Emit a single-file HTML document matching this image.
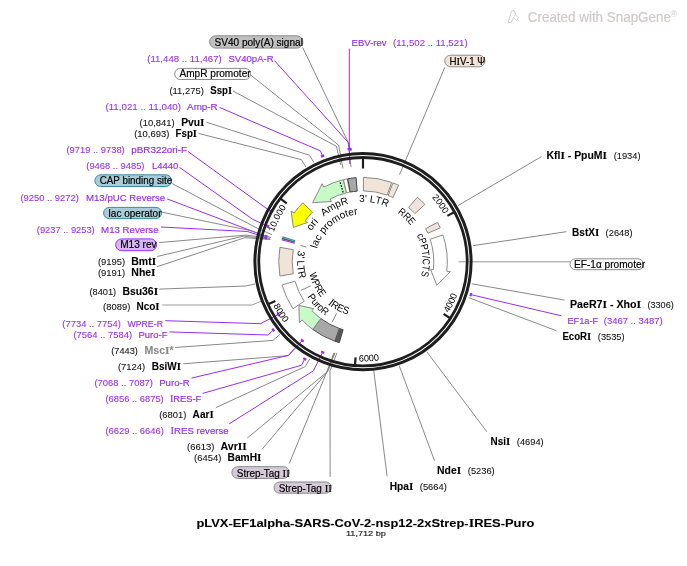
<!DOCTYPE html><html><head><meta charset="utf-8"><style>html,body{margin:0;padding:0;background:#fff;}svg{display:block;will-change:transform;}</style></head><body><svg width="687" height="566" viewBox="0 0 687 566" font-family='"Liberation Sans", sans-serif'>
<rect width="687" height="566" fill="#fff"/>
<polyline points="302.70,47.50 348.10,142.20 351.00,167.00" fill="none" stroke="#7a7a7a" stroke-width="0.90"/>
<polyline points="274.40,60.60 348.10,142.20 350.20,149.50" fill="none" stroke="#9b2cf2" stroke-width="1.00"/>
<polyline points="250.60,75.00 338.60,145.10 343.00,168.40" fill="none" stroke="#7a7a7a" stroke-width="0.90"/>
<polyline points="233.00,91.00 336.40,146.30 340.80,165.00" fill="none" stroke="#7a7a7a" stroke-width="0.90"/>
<polyline points="219.50,107.40 320.40,150.90 322.60,156.00" fill="none" stroke="#9b2cf2" stroke-width="1.00"/>
<polyline points="206.40,122.20 309.50,155.30 313.90,162.60" fill="none" stroke="#7a7a7a" stroke-width="0.90"/>
<polyline points="198.50,133.40 301.50,159.70 305.90,167.00" fill="none" stroke="#7a7a7a" stroke-width="0.90"/>
<polyline points="187.90,151.40 266.00,208.10 271.10,211.10" fill="none" stroke="#9b2cf2" stroke-width="1.00"/>
<polyline points="179.40,167.30 252.70,219.30 268.00,226.40" fill="none" stroke="#9b2cf2" stroke-width="1.00"/>
<polyline points="172.20,183.60 257.80,228.50 272.00,234.60" fill="none" stroke="#7a7a7a" stroke-width="0.90"/>
<polyline points="167.10,198.90 255.80,232.50 266.00,236.60" fill="none" stroke="#9b2cf2" stroke-width="1.00"/>
<polyline points="162.00,212.20 249.70,230.50 271.00,237.60" fill="none" stroke="#7a7a7a" stroke-width="0.90"/>
<polyline points="161.00,227.00 247.60,231.50 266.00,237.60" fill="none" stroke="#9b2cf2" stroke-width="1.00"/>
<polyline points="159.20,242.60 245.80,235.10 270.20,238.20" fill="none" stroke="#7a7a7a" stroke-width="0.90"/>
<polyline points="157.10,256.50 243.70,236.10 270.20,239.20" fill="none" stroke="#7a7a7a" stroke-width="0.90"/>
<polyline points="157.10,266.70 244.80,237.70 270.20,239.50" fill="none" stroke="#7a7a7a" stroke-width="0.90"/>
<polyline points="159.20,289.10 245.80,286.00 255.00,284.00" fill="none" stroke="#7a7a7a" stroke-width="0.90"/>
<polyline points="162.20,305.00 251.90,305.00 261.10,301.30" fill="none" stroke="#9a9a9a" stroke-width="1.00"/>
<polyline points="165.30,320.70 260.50,323.70 278.20,314.50" fill="none" stroke="#9b2cf2" stroke-width="1.00"/>
<polyline points="169.40,331.90 268.20,335.00 273.30,329.90" fill="none" stroke="#9b2cf2" stroke-width="1.00"/>
<polyline points="175.10,347.50 272.90,340.40 280.00,334.30" fill="none" stroke="#7a7a7a" stroke-width="0.90"/>
<polyline points="183.20,363.80 288.20,355.70 294.30,348.50" fill="none" stroke="#7a7a7a" stroke-width="0.90"/>
<polyline points="191.40,378.10 288.70,355.30 302.30,340.50" fill="none" stroke="#9b2cf2" stroke-width="1.00"/>
<polyline points="202.60,393.40 301.60,365.20 304.70,359.00" fill="none" stroke="#9b2cf2" stroke-width="1.00"/>
<polyline points="215.90,407.60 305.30,366.50 309.70,359.00" fill="none" stroke="#7a7a7a" stroke-width="0.90"/>
<polyline points="229.10,423.90 313.40,370.80 322.70,352.30" fill="none" stroke="#9b2cf2" stroke-width="1.00"/>
<polyline points="247.30,438.00 327.00,372.00 333.80,352.90" fill="none" stroke="#7a7a7a" stroke-width="0.90"/>
<polyline points="262.10,449.20 328.20,370.80 334.50,352.90" fill="none" stroke="#7a7a7a" stroke-width="0.90"/>
<polyline points="289.30,463.50 328.80,367.00 335.00,352.90" fill="none" stroke="#7a7a7a" stroke-width="0.90"/>
<polyline points="330.10,477.00 330.00,370.80 336.90,352.90" fill="none" stroke="#7a7a7a" stroke-width="0.90"/>
<polyline points="387.10,476.30 373.80,370.90" fill="none" stroke="#7a7a7a" stroke-width="0.90"/>
<polyline points="434.50,460.60 399.20,365.60" fill="none" stroke="#7a7a7a" stroke-width="0.90"/>
<polyline points="486.90,431.80 426.80,351.80" fill="none" stroke="#7a7a7a" stroke-width="0.90"/>
<polyline points="556.40,330.70 468.70,297.70" fill="none" stroke="#7a7a7a" stroke-width="0.90"/>
<polyline points="561.40,315.80 470.80,294.60" fill="none" stroke="#9b2cf2" stroke-width="1.00"/>
<polyline points="564.50,300.10 471.80,283.80" fill="none" stroke="#7a7a7a" stroke-width="0.90"/>
<polyline points="570.00,261.80 458.50,261.80" fill="none" stroke="#9a9a9a" stroke-width="1.00"/>
<polyline points="566.30,231.70 472.80,245.70" fill="none" stroke="#7a7a7a" stroke-width="0.90"/>
<polyline points="541.50,156.60 458.00,205.60" fill="none" stroke="#7a7a7a" stroke-width="0.90"/>
<polyline points="444.80,67.30 401.50,170.00 399.40,174.50" fill="none" stroke="#7a7a7a" stroke-width="0.90"/>
<polyline points="349.30,48.60 349.30,149.00" fill="none" stroke="#9b2cf2" stroke-width="1.00"/>
<polyline points="349.30,149.00 349.80,164.00" fill="none" stroke="#9b2cf2" stroke-width="1.00"/>
<line x1="348.51" y1="149.69" x2="351.89" y2="149.31" stroke="#9b2cf2" stroke-width="2.2"/>
<line x1="321.01" y1="156.61" x2="324.19" y2="155.39" stroke="#9b2cf2" stroke-width="2.2"/>
<line x1="270.28" y1="212.59" x2="271.92" y2="209.61" stroke="#9b2cf2" stroke-width="2.2"/>
<line x1="267.41" y1="227.99" x2="268.59" y2="224.81" stroke="#9b2cf2" stroke-width="2.2"/>
<line x1="265.57" y1="238.25" x2="266.43" y2="234.95" stroke="#9b2cf2" stroke-width="2.2"/>
<line x1="265.59" y1="239.25" x2="266.41" y2="235.95" stroke="#9b2cf2" stroke-width="2.2"/>
<line x1="279.10" y1="315.94" x2="277.30" y2="313.06" stroke="#9b2cf2" stroke-width="2.2"/>
<line x1="274.33" y1="331.25" x2="272.27" y2="328.55" stroke="#9b2cf2" stroke-width="2.2"/>
<line x1="303.65" y1="341.54" x2="300.95" y2="339.46" stroke="#9b2cf2" stroke-width="2.2"/>
<line x1="306.16" y1="359.87" x2="303.24" y2="358.13" stroke="#9b2cf2" stroke-width="2.2"/>
<line x1="324.25" y1="352.99" x2="321.15" y2="351.61" stroke="#9b2cf2" stroke-width="2.2"/>
<line x1="471.30" y1="292.97" x2="470.30" y2="296.23" stroke="#9b2cf2" stroke-width="2.2"/>
<line x1="347.61" y1="149.21" x2="350.99" y2="148.79" stroke="#9b2cf2" stroke-width="2.2"/>
<circle cx="363.00" cy="261.70" r="108.1" fill="none" stroke="#1e1e1e" stroke-width="3"/>
<circle cx="363.00" cy="261.70" r="104.2" fill="none" stroke="#1e1e1e" stroke-width="2.8"/>
<line x1="363.00" y1="168.50" x2="363.00" y2="158.20" stroke="#1e1e1e" stroke-width="2.2"/>
<line x1="447.35" y1="215.86" x2="453.94" y2="212.28" stroke="#1e1e1e" stroke-width="2.2"/>
<line x1="443.56" y1="313.92" x2="449.85" y2="318.00" stroke="#1e1e1e" stroke-width="2.2"/>
<line x1="355.59" y1="357.41" x2="355.01" y2="364.89" stroke="#1e1e1e" stroke-width="2.2"/>
<line x1="275.37" y1="300.90" x2="268.52" y2="303.96" stroke="#1e1e1e" stroke-width="2.2"/>
<line x1="286.71" y1="203.42" x2="280.75" y2="198.87" stroke="#1e1e1e" stroke-width="2.2"/>
<path d="M 363.44 177.40 A 84.3 84.3 0 0 1 391.69 182.43 L 387.10 195.13 A 70.8 70.8 0 0 0 363.37 190.90 Z" fill="#f0e4d8" stroke="#8a8a8a" stroke-width="1.00" stroke-linejoin="round"/>
<path d="M 392.94 182.89 A 84.3 84.3 0 0 1 398.63 185.30 L 392.92 197.53 A 70.8 70.8 0 0 0 388.14 195.51 Z" fill="#f0e4d8" stroke="#8a8a8a" stroke-width="1.00" stroke-linejoin="round"/>
<path d="M 417.30 197.22 A 84.3 84.3 0 0 1 424.85 204.42 L 414.95 213.60 A 70.8 70.8 0 0 0 408.60 207.54 Z" fill="#f0e4d8" stroke="#8a8a8a" stroke-width="1.00" stroke-linejoin="round"/>
<path d="M 437.57 222.38 A 84.3 84.3 0 0 1 440.19 227.82 L 427.83 233.24 A 70.8 70.8 0 0 0 425.63 228.68 Z" fill="#f0e4d8" stroke="#8a8a8a" stroke-width="1.00" stroke-linejoin="round"/>
<path d="M 442.94 234.95 A 84.3 84.3 0 0 1 446.76 271.24 L 450.43 271.66 L 436.88 285.28 L 430.56 269.40 L 433.34 269.71 A 70.8 70.8 0 0 0 430.14 239.23 Z" fill="#ffffff" stroke="#8a8a8a" stroke-width="1.00" stroke-linejoin="miter"/>
<path d="M 339.34 342.61 A 84.3 84.3 0 0 1 334.86 341.16 L 339.37 328.44 A 70.8 70.8 0 0 0 343.13 329.65 Z" fill="#5a5a5a" stroke="#444" stroke-width="1.00" stroke-linejoin="round"/>
<path d="M 334.86 341.16 A 84.3 84.3 0 0 1 312.74 329.38 L 320.79 318.54 A 70.8 70.8 0 0 0 339.37 328.44 Z" fill="#a8a8a8" stroke="#555" stroke-width="1.00" stroke-linejoin="round"/>
<path d="M 312.74 329.38 A 84.3 84.3 0 0 1 302.05 319.94 L 299.38 322.50 L 298.94 305.40 L 313.84 308.68 L 311.81 310.61 A 70.8 70.8 0 0 0 320.79 318.54 Z" fill="#c8fac8" stroke="#8a8a8a" stroke-width="1.00" stroke-linejoin="miter"/>
<path d="M 293.03 308.72 A 84.3 84.3 0 0 1 281.97 284.94 L 294.94 281.22 A 70.8 70.8 0 0 0 304.24 301.19 Z" fill="#ffffff" stroke="#8a8a8a" stroke-width="1.00" stroke-linejoin="round"/>
<path d="M 279.93 276.05 A 84.3 84.3 0 0 1 279.93 247.35 L 293.23 249.65 A 70.8 70.8 0 0 0 293.23 273.75 Z" fill="#f0e4d8" stroke="#8a8a8a" stroke-width="1.00" stroke-linejoin="round"/>
<path d="M 281.46 240.31 A 84.3 84.3 0 0 1 281.77 239.17 L 294.77 242.78 A 70.8 70.8 0 0 0 294.52 243.73 Z" fill="#9b2cf2" stroke="none" stroke-width="0.00" stroke-linejoin="round"/>
<path d="M 281.77 239.17 A 84.3 84.3 0 0 1 282.21 237.62 L 295.15 241.47 A 70.8 70.8 0 0 0 294.77 242.78 Z" fill="#5a5a5a" stroke="none" stroke-width="0.00" stroke-linejoin="round"/>
<path d="M 282.21 237.62 A 84.3 84.3 0 0 1 282.65 236.21 L 295.51 240.29 A 70.8 70.8 0 0 0 295.15 241.47 Z" fill="#3a9ab0" stroke="none" stroke-width="0.00" stroke-linejoin="round"/>
<path d="M 302.77 202.72 A 84.3 84.3 0 0 0 294.11 213.11 L 291.09 210.97 L 293.42 227.46 L 307.43 222.50 L 305.15 220.89 A 70.8 70.8 0 0 1 312.42 212.16 Z" fill="#ffff00" stroke="#8a8a8a" stroke-width="1.00" stroke-linejoin="miter"/>
<path d="M 343.18 179.76 A 84.3 84.3 0 0 0 323.81 187.06 L 322.09 183.79 L 312.64 202.73 L 331.39 201.49 L 330.09 199.01 A 70.8 70.8 0 0 1 346.35 192.89 Z" fill="#c8fac8" stroke="#8a8a8a" stroke-width="1.00" stroke-linejoin="miter"/>
<polyline points="343.15,192.49 340.07,181.72" fill="none" stroke="#000" stroke-width="1.20" stroke-dasharray="1.6,1.4"/>
<path d="M 343.46 179.69 A 84.3 84.3 0 0 1 347.20 178.89 L 349.73 192.15 A 70.8 70.8 0 0 0 346.59 192.83 Z" fill="#ffffff" stroke="#8a8a8a" stroke-width="1.00" stroke-linejoin="round"/>
<path d="M 347.78 178.78 A 84.3 84.3 0 0 1 356.09 177.68 L 357.20 191.14 A 70.8 70.8 0 0 0 350.22 192.06 Z" fill="#a8a8a8" stroke="#444" stroke-width="1.00" stroke-linejoin="round"/>
<polyline points="310.71,285.86 300.91,290.39" fill="none" stroke="#7a7a7a" stroke-width="0.90"/>
<polyline points="336.58,313.33 332.02,322.23" fill="none" stroke="#7a7a7a" stroke-width="0.90"/>
<polyline points="306.58,247.00 300.58,245.44" fill="none" stroke="#7a7a7a" stroke-width="0.90"/>
<g font-size="10.20" fill="#000"><text transform="translate(362.07 201.91) rotate(-0.89) scale(0.967 1)" text-anchor="middle">3</text><text transform="translate(365.76 201.96) rotate(2.64) scale(0.967 1)" text-anchor="middle">'</text><text transform="translate(372.14 202.60) rotate(8.80) scale(0.967 1)" text-anchor="middle">L</text><text transform="translate(377.78 203.75) rotate(14.31) scale(0.967 1)" text-anchor="middle">T</text><text transform="translate(384.04 205.73) rotate(20.60) scale(0.967 1)" text-anchor="middle">R</text></g>
<g font-size="10.20" fill="#000"><text transform="translate(399.96 214.69) rotate(38.17) scale(0.859 1)" text-anchor="middle">R</text><text transform="translate(404.71 218.85) rotate(44.23) scale(0.859 1)" text-anchor="middle">R</text><text transform="translate(408.85 223.31) rotate(50.06) scale(0.859 1)" text-anchor="middle">E</text></g>
<g font-size="10.20" fill="#000"><text transform="translate(417.60 237.31) rotate(65.93) scale(0.872 1)" text-anchor="middle">c</text><text transform="translate(419.51 242.13) rotate(70.90) scale(0.872 1)" text-anchor="middle">P</text><text transform="translate(421.17 247.83) rotate(76.59) scale(0.872 1)" text-anchor="middle">P</text><text transform="translate(422.22 253.41) rotate(82.03) scale(0.872 1)" text-anchor="middle">T</text><text transform="translate(422.64 257.34) rotate(85.82) scale(0.872 1)" text-anchor="middle">/</text><text transform="translate(422.80 261.78) rotate(90.08) scale(0.872 1)" text-anchor="middle">C</text><text transform="translate(422.50 267.70) rotate(95.76) scale(0.872 1)" text-anchor="middle">T</text><text transform="translate(421.66 273.31) rotate(101.20) scale(0.872 1)" text-anchor="middle">S</text></g>
<g font-size="10.20" fill="#000"><text transform="translate(297.75 253.21) rotate(97.41) scale(0.967 1)" text-anchor="middle">3</text><text transform="translate(297.38 256.87) rotate(94.21) scale(0.967 1)" text-anchor="middle">'</text><text transform="translate(297.22 263.29) rotate(88.61) scale(0.967 1)" text-anchor="middle">L</text><text transform="translate(297.61 269.03) rotate(83.60) scale(0.967 1)" text-anchor="middle">T</text><text transform="translate(298.67 275.51) rotate(77.88) scale(0.967 1)" text-anchor="middle">R</text></g>
<g font-size="10.20" fill="#000"><text transform="translate(310.41 277.81) rotate(72.97) scale(0.876 1)" text-anchor="middle">W</text><text transform="translate(312.96 284.53) rotate(65.47) scale(0.876 1)" text-anchor="middle">P</text><text transform="translate(315.85 290.02) rotate(59.01) scale(0.876 1)" text-anchor="middle">R</text><text transform="translate(319.34 295.15) rotate(52.54) scale(0.876 1)" text-anchor="middle">E</text></g>
<g font-size="10.20" fill="#000"><text transform="translate(309.08 299.42) rotate(55.02) scale(0.917 1)" text-anchor="middle">P</text><text transform="translate(312.56 303.96) rotate(50.04) scale(0.917 1)" text-anchor="middle">u</text><text transform="translate(315.33 307.06) rotate(46.42) scale(0.917 1)" text-anchor="middle">r</text><text transform="translate(318.29 309.98) rotate(42.81) scale(0.917 1)" text-anchor="middle">o</text><text transform="translate(322.85 313.83) rotate(37.60) scale(0.917 1)" text-anchor="middle">R</text></g>
<g font-size="10.20" fill="#000"><text transform="translate(329.20 305.09) rotate(37.92) scale(0.945 1)" text-anchor="middle" font-family="Liberation Serif" font-size="11.12">I</text><text transform="translate(333.12 307.88) rotate(32.90) scale(0.945 1)" text-anchor="middle">R</text><text transform="translate(338.95 311.16) rotate(25.93) scale(0.945 1)" text-anchor="middle">E</text><text transform="translate(344.89 313.63) rotate(19.23) scale(0.945 1)" text-anchor="middle">S</text></g>
<g font-size="10.20" fill="#000"><text transform="translate(317.33 247.60) rotate(287.16) scale(1.000 1)" text-anchor="middle">l</text><text transform="translate(318.65 243.86) rotate(291.92) scale(1.000 1)" text-anchor="middle">a</text><text transform="translate(320.94 238.99) rotate(298.37) scale(1.000 1)" text-anchor="middle">c</text><text transform="translate(325.45 232.12) rotate(308.23) scale(1.000 1)" text-anchor="middle">p</text><text transform="translate(328.42 228.70) rotate(313.66) scale(1.000 1)" text-anchor="middle">r</text><text transform="translate(331.70 225.57) rotate(319.10) scale(1.000 1)" text-anchor="middle">o</text><text transform="translate(337.38 221.35) rotate(327.59) scale(1.000 1)" text-anchor="middle">m</text><text transform="translate(343.62 218.00) rotate(336.08) scale(1.000 1)" text-anchor="middle">o</text><text transform="translate(347.58 216.46) rotate(341.18) scale(1.000 1)" text-anchor="middle">t</text><text transform="translate(351.66 215.26) rotate(346.28) scale(1.000 1)" text-anchor="middle">e</text><text transform="translate(356.11 214.40) rotate(351.71) scale(1.000 1)" text-anchor="middle">r</text></g>
<g font-size="10.20" fill="#000"><text transform="translate(313.18 228.62) rotate(303.59) scale(1.000 1)" text-anchor="middle">o</text><text transform="translate(315.83 224.94) rotate(307.93) scale(1.000 1)" text-anchor="middle">r</text><text transform="translate(317.63 222.75) rotate(310.64) scale(1.000 1)" text-anchor="middle">i</text></g>
<g font-size="10.20" fill="#000"><text transform="translate(326.50 214.33) rotate(322.38) scale(1.000 1)" text-anchor="middle">A</text><text transform="translate(332.84 210.06) rotate(329.71) scale(1.000 1)" text-anchor="middle">m</text><text transform="translate(339.16 206.86) rotate(336.50) scale(1.000 1)" text-anchor="middle">p</text><text transform="translate(345.26 204.59) rotate(342.75) scale(1.000 1)" text-anchor="middle">R</text></g>
<g font-size="9.20" fill="#000"><text transform="translate(433.49 199.52) rotate(48.58) scale(1.000 1)" text-anchor="middle">2</text><text transform="translate(436.77 203.44) rotate(51.70) scale(1.000 1)" text-anchor="middle">0</text><text transform="translate(439.83 207.54) rotate(54.82) scale(1.000 1)" text-anchor="middle">0</text><text transform="translate(442.66 211.81) rotate(57.94) scale(1.000 1)" text-anchor="middle">0</text></g>
<g font-size="9.20" fill="#000"><text transform="translate(274.56 229.85) rotate(289.81) scale(1.000 1)" text-anchor="middle">1</text><text transform="translate(276.43 225.08) rotate(292.93) scale(1.000 1)" text-anchor="middle">0</text><text transform="translate(277.99 221.58) rotate(295.26) scale(1.000 1)" text-anchor="middle">,</text><text transform="translate(279.70 218.15) rotate(297.60) scale(1.000 1)" text-anchor="middle">0</text><text transform="translate(282.19 213.68) rotate(300.72) scale(1.000 1)" text-anchor="middle">0</text><text transform="translate(284.92 209.35) rotate(303.84) scale(1.000 1)" text-anchor="middle">0</text></g>
<g font-size="9.20" fill="#000"><text transform="translate(449.83 310.89) rotate(-60.47) scale(1.000 1)" text-anchor="middle">4</text><text transform="translate(452.24 306.38) rotate(-63.41) scale(1.000 1)" text-anchor="middle">0</text><text transform="translate(454.41 301.74) rotate(-66.34) scale(1.000 1)" text-anchor="middle">0</text><text transform="translate(456.35 297.01) rotate(-69.28) scale(1.000 1)" text-anchor="middle">0</text></g>
<g font-size="9.20" fill="#000"><text transform="translate(361.38 361.49) rotate(0.93) scale(1.000 1)" text-anchor="middle">6</text><text transform="translate(366.49 361.44) rotate(-2.01) scale(1.000 1)" text-anchor="middle">0</text><text transform="translate(371.60 361.13) rotate(-4.94) scale(1.000 1)" text-anchor="middle">0</text><text transform="translate(376.68 360.56) rotate(-7.88) scale(1.000 1)" text-anchor="middle">0</text></g>
<g font-size="9.20" fill="#000"><text transform="translate(274.53 307.89) rotate(62.43) scale(1.000 1)" text-anchor="middle">8</text><text transform="translate(277.01 312.36) rotate(59.49) scale(1.000 1)" text-anchor="middle">0</text><text transform="translate(279.72 316.70) rotate(56.56) scale(1.000 1)" text-anchor="middle">0</text><text transform="translate(282.65 320.90) rotate(53.62) scale(1.000 1)" text-anchor="middle">0</text></g>
<rect x="209.60" y="35.80" width="93.30" height="12.30" rx="6.15" ry="6.15" fill="#c0c0c0" stroke="#8c8c8c" stroke-width="1"/>
<text x="214.50" y="45.80" font-size="10.20" fill="#000" stroke="#000" stroke-width="0.18" textLength="88.40" lengthAdjust="spacingAndGlyphs">SV40 poly(A) signal</text>
<rect x="174.70" y="68.40" width="75.90" height="11.10" rx="5.55" ry="5.55" fill="#ffffff" stroke="#8c8c8c" stroke-width="1"/>
<text x="179.50" y="77.30" font-size="10.20" fill="#000" stroke="#000" stroke-width="0.18" textLength="71.10" lengthAdjust="spacingAndGlyphs">AmpR promoter</text>
<rect x="94.90" y="174.80" width="76.70" height="11.70" rx="5.85" ry="5.85" fill="#a8ccd8" stroke="#3a8ca0" stroke-width="1"/>
<text x="99.70" y="184.40" font-size="10.20" fill="#000" stroke="#000" stroke-width="0.18" textLength="72.50" lengthAdjust="spacingAndGlyphs">CAP binding site</text>
<rect x="103.60" y="207.40" width="57.90" height="11.20" rx="5.60" ry="5.60" fill="#a8ccd8" stroke="#3a8ca0" stroke-width="1"/>
<text x="108.60" y="216.60" font-size="10.20" fill="#000" stroke="#000" stroke-width="0.18" textLength="52.90" lengthAdjust="spacingAndGlyphs">lac operator</text>
<rect x="115.70" y="238.90" width="40.90" height="11.80" rx="5.90" ry="5.90" fill="#d8b4f8" stroke="#9b2cf2" stroke-width="1"/>
<text x="120.20" y="248.30" font-size="10.20" fill="#000" stroke="#000" stroke-width="0.18" textLength="36.40" lengthAdjust="spacingAndGlyphs">M13 rev</text>
<rect x="231.90" y="466.70" width="57.40" height="11.70" rx="5.85" ry="5.85" fill="#d4cad8" stroke="#8c8494" stroke-width="1"/>
<text x="236.80" y="476.60" font-size="10.20" fill="#000" stroke="#000" stroke-width="0.18" textLength="53.00" lengthAdjust="spacingAndGlyphs">Strep-Tag <tspan font-family="Liberation Serif" font-size="11.12">I</tspan><tspan font-family="Liberation Serif" font-size="11.12">I</tspan></text>
<rect x="274.00" y="482.00" width="57.40" height="11.20" rx="5.60" ry="5.60" fill="#d4cad8" stroke="#8c8494" stroke-width="1"/>
<text x="278.70" y="491.80" font-size="10.20" fill="#000" stroke="#000" stroke-width="0.18" textLength="53.20" lengthAdjust="spacingAndGlyphs">Strep-Tag <tspan font-family="Liberation Serif" font-size="11.12">I</tspan><tspan font-family="Liberation Serif" font-size="11.12">I</tspan></text>
<rect x="570.00" y="258.80" width="73.40" height="10.90" rx="5.45" ry="5.45" fill="#ffffff" stroke="#8c8c8c" stroke-width="1"/>
<text x="574.00" y="267.80" font-size="10.20" fill="#000" stroke="#000" stroke-width="0.18" textLength="71.00" lengthAdjust="spacingAndGlyphs">EF-1α promoter</text>
<rect x="444.80" y="55.20" width="40.10" height="11.60" rx="5.80" ry="5.80" fill="#f0e4d8" stroke="#8c8c8c" stroke-width="1"/>
<text x="449.50" y="64.60" font-size="10.20" fill="#000" stroke="#000" stroke-width="0.18" textLength="36.00" lengthAdjust="spacingAndGlyphs">H<tspan font-family="Liberation Serif" font-size="11.12">I</tspan>V-1 Ψ</text>
<text x="147.20" y="62.00" font-size="8.50" fill="#9b2cf2" stroke="#9b2cf2" stroke-width="0.08" textLength="74.50" lengthAdjust="spacingAndGlyphs">(11,448 .. 11,467)</text>
<text x="228.40" y="62.00" font-size="9.90" fill="#9b2cf2" stroke="#9b2cf2" stroke-width="0.18" textLength="45.30" lengthAdjust="spacingAndGlyphs">SV40pA-R</text>
<text x="169.40" y="93.80" font-size="8.50" fill="#111" stroke="#111" stroke-width="0.08" textLength="34.40" lengthAdjust="spacingAndGlyphs">(11,275)</text>
<text x="210.30" y="93.80" font-size="10.30" fill="#000" font-weight="bold" stroke="#000" stroke-width="0.09" textLength="21.80" lengthAdjust="spacingAndGlyphs">Ssp<tspan font-family="Liberation Serif" font-size="11.23">I</tspan></text>
<text x="105.40" y="110.30" font-size="8.50" fill="#9b2cf2" stroke="#9b2cf2" stroke-width="0.08" textLength="75.60" lengthAdjust="spacingAndGlyphs">(11,021 .. 11,040)</text>
<text x="187.10" y="110.30" font-size="9.90" fill="#9b2cf2" stroke="#9b2cf2" stroke-width="0.18" textLength="30.50" lengthAdjust="spacingAndGlyphs">Amp-R</text>
<text x="139.60" y="126.00" font-size="8.50" fill="#111" stroke="#111" stroke-width="0.08" textLength="35.15" lengthAdjust="spacingAndGlyphs">(10,841)</text>
<text x="181.20" y="126.00" font-size="10.30" fill="#000" font-weight="bold" stroke="#000" stroke-width="0.09" textLength="23.30" lengthAdjust="spacingAndGlyphs">Pvu<tspan font-family="Liberation Serif" font-size="11.23">I</tspan></text>
<text x="134.20" y="137.10" font-size="8.50" fill="#111" stroke="#111" stroke-width="0.08" textLength="35.10" lengthAdjust="spacingAndGlyphs">(10,693)</text>
<text x="175.50" y="137.10" font-size="10.30" fill="#000" font-weight="bold" stroke="#000" stroke-width="0.09" textLength="21.50" lengthAdjust="spacingAndGlyphs">Fsp<tspan font-family="Liberation Serif" font-size="11.23">I</tspan></text>
<text x="66.50" y="152.90" font-size="8.50" fill="#9b2cf2" stroke="#9b2cf2" stroke-width="0.08" textLength="58.20" lengthAdjust="spacingAndGlyphs">(9719 .. 9738)</text>
<text x="131.30" y="152.90" font-size="9.90" fill="#9b2cf2" stroke="#9b2cf2" stroke-width="0.18" textLength="55.80" lengthAdjust="spacingAndGlyphs">pBR322ori-F</text>
<text x="86.30" y="169.00" font-size="8.50" fill="#9b2cf2" stroke="#9b2cf2" stroke-width="0.08" textLength="58.20" lengthAdjust="spacingAndGlyphs">(9468 .. 9485)</text>
<text x="151.90" y="169.00" font-size="9.90" fill="#9b2cf2" stroke="#9b2cf2" stroke-width="0.18" textLength="26.50" lengthAdjust="spacingAndGlyphs">L4440</text>
<text x="20.40" y="201.10" font-size="8.50" fill="#9b2cf2" stroke="#9b2cf2" stroke-width="0.08" textLength="58.50" lengthAdjust="spacingAndGlyphs">(9250 .. 9272)</text>
<text x="86.00" y="201.10" font-size="9.90" fill="#9b2cf2" stroke="#9b2cf2" stroke-width="0.18" textLength="79.20" lengthAdjust="spacingAndGlyphs">M13/pUC Reverse</text>
<text x="36.80" y="232.90" font-size="8.50" fill="#9b2cf2" stroke="#9b2cf2" stroke-width="0.08" textLength="57.90" lengthAdjust="spacingAndGlyphs">(9237 .. 9253)</text>
<text x="101.10" y="232.90" font-size="9.90" fill="#9b2cf2" stroke="#9b2cf2" stroke-width="0.18" textLength="57.50" lengthAdjust="spacingAndGlyphs">M13 Reverse</text>
<text x="97.90" y="264.90" font-size="8.50" fill="#111" stroke="#111" stroke-width="0.08" textLength="27.20" lengthAdjust="spacingAndGlyphs">(9195)</text>
<text x="131.30" y="264.90" font-size="10.30" fill="#000" font-weight="bold" stroke="#000" stroke-width="0.09" textLength="24.80" lengthAdjust="spacingAndGlyphs">Bmt<tspan font-family="Liberation Serif" font-size="11.23">I</tspan></text>
<text x="97.90" y="275.50" font-size="8.50" fill="#111" stroke="#111" stroke-width="0.08" textLength="27.20" lengthAdjust="spacingAndGlyphs">(9191)</text>
<text x="131.30" y="275.50" font-size="10.30" fill="#000" font-weight="bold" stroke="#000" stroke-width="0.09" textLength="24.30" lengthAdjust="spacingAndGlyphs">Nhe<tspan font-family="Liberation Serif" font-size="11.23">I</tspan></text>
<text x="89.50" y="294.90" font-size="8.50" fill="#111" stroke="#111" stroke-width="0.08" textLength="26.70" lengthAdjust="spacingAndGlyphs">(8401)</text>
<text x="122.40" y="294.90" font-size="10.30" fill="#000" font-weight="bold" stroke="#000" stroke-width="0.09" textLength="35.70" lengthAdjust="spacingAndGlyphs">Bsu36<tspan font-family="Liberation Serif" font-size="11.23">I</tspan></text>
<text x="103.10" y="310.40" font-size="8.50" fill="#111" stroke="#111" stroke-width="0.08" textLength="27.20" lengthAdjust="spacingAndGlyphs">(8089)</text>
<text x="136.50" y="310.40" font-size="10.30" fill="#000" font-weight="bold" stroke="#000" stroke-width="0.09" textLength="23.10" lengthAdjust="spacingAndGlyphs">Nco<tspan font-family="Liberation Serif" font-size="11.23">I</tspan></text>
<text x="62.30" y="327.00" font-size="8.50" fill="#9b2cf2" stroke="#9b2cf2" stroke-width="0.08" textLength="58.60" lengthAdjust="spacingAndGlyphs">(7734 .. 7754)</text>
<text x="127.40" y="327.00" font-size="9.90" fill="#9b2cf2" stroke="#9b2cf2" stroke-width="0.18" textLength="35.60" lengthAdjust="spacingAndGlyphs">WPRE-R</text>
<text x="73.40" y="338.00" font-size="8.50" fill="#9b2cf2" stroke="#9b2cf2" stroke-width="0.08" textLength="58.70" lengthAdjust="spacingAndGlyphs">(7564 .. 7584)</text>
<text x="138.50" y="338.00" font-size="9.90" fill="#9b2cf2" stroke="#9b2cf2" stroke-width="0.18" textLength="29.00" lengthAdjust="spacingAndGlyphs">Puro-F</text>
<text x="111.30" y="353.80" font-size="8.50" fill="#111" stroke="#111" stroke-width="0.08" textLength="26.50" lengthAdjust="spacingAndGlyphs">(7443)</text>
<text x="144.50" y="353.80" font-size="10.30" fill="#8a8a8a" font-weight="bold" stroke="#8a8a8a" stroke-width="0.09" textLength="29.20" lengthAdjust="spacingAndGlyphs">Msc<tspan font-family="Liberation Serif" font-size="11.23">I</tspan>*</text>
<text x="117.90" y="369.90" font-size="8.50" fill="#111" stroke="#111" stroke-width="0.08" textLength="27.20" lengthAdjust="spacingAndGlyphs">(7124)</text>
<text x="151.80" y="369.90" font-size="10.30" fill="#000" font-weight="bold" stroke="#000" stroke-width="0.09" textLength="29.20" lengthAdjust="spacingAndGlyphs">BsiW<tspan font-family="Liberation Serif" font-size="11.23">I</tspan></text>
<text x="94.40" y="385.90" font-size="8.50" fill="#9b2cf2" stroke="#9b2cf2" stroke-width="0.08" textLength="58.60" lengthAdjust="spacingAndGlyphs">(7068 .. 7087)</text>
<text x="159.20" y="385.90" font-size="9.90" fill="#9b2cf2" stroke="#9b2cf2" stroke-width="0.18" textLength="30.50" lengthAdjust="spacingAndGlyphs">Puro-R</text>
<text x="105.50" y="402.00" font-size="8.50" fill="#9b2cf2" stroke="#9b2cf2" stroke-width="0.08" textLength="58.20" lengthAdjust="spacingAndGlyphs">(6856 .. 6875)</text>
<text x="169.90" y="402.00" font-size="9.90" fill="#9b2cf2" stroke="#9b2cf2" stroke-width="0.18" textLength="31.40" lengthAdjust="spacingAndGlyphs"><tspan font-family="Liberation Serif" font-size="10.79">I</tspan>RES-F</text>
<text x="159.20" y="417.60" font-size="8.50" fill="#111" stroke="#111" stroke-width="0.08" textLength="27.20" lengthAdjust="spacingAndGlyphs">(6801)</text>
<text x="192.60" y="417.60" font-size="10.30" fill="#000" font-weight="bold" stroke="#000" stroke-width="0.09" textLength="21.10" lengthAdjust="spacingAndGlyphs">Aar<tspan font-family="Liberation Serif" font-size="11.23">I</tspan></text>
<text x="105.40" y="433.60" font-size="8.50" fill="#9b2cf2" stroke="#9b2cf2" stroke-width="0.08" textLength="58.50" lengthAdjust="spacingAndGlyphs">(6629 .. 6646)</text>
<text x="170.50" y="433.60" font-size="9.90" fill="#9b2cf2" stroke="#9b2cf2" stroke-width="0.18" textLength="58.20" lengthAdjust="spacingAndGlyphs"><tspan font-family="Liberation Serif" font-size="10.79">I</tspan>RES reverse</text>
<text x="187.10" y="449.70" font-size="8.50" fill="#111" stroke="#111" stroke-width="0.08" textLength="27.30" lengthAdjust="spacingAndGlyphs">(6613)</text>
<text x="220.50" y="449.70" font-size="10.30" fill="#000" font-weight="bold" stroke="#000" stroke-width="0.09" textLength="26.30" lengthAdjust="spacingAndGlyphs">Avr<tspan font-family="Liberation Serif" font-size="11.23">I</tspan><tspan font-family="Liberation Serif" font-size="11.23">I</tspan></text>
<text x="194.00" y="460.80" font-size="8.50" fill="#111" stroke="#111" stroke-width="0.08" textLength="27.30" lengthAdjust="spacingAndGlyphs">(6454)</text>
<text x="227.50" y="460.80" font-size="10.30" fill="#000" font-weight="bold" stroke="#000" stroke-width="0.09" textLength="33.90" lengthAdjust="spacingAndGlyphs">BamH<tspan font-family="Liberation Serif" font-size="11.23">I</tspan></text>
<text x="389.70" y="490.20" font-size="10.30" fill="#000" font-weight="bold" stroke="#000" stroke-width="0.09" textLength="23.60" lengthAdjust="spacingAndGlyphs">Hpa<tspan font-family="Liberation Serif" font-size="11.23">I</tspan></text>
<text x="419.80" y="490.20" font-size="8.50" fill="#111" stroke="#111" stroke-width="0.08" textLength="27.00" lengthAdjust="spacingAndGlyphs">(5664)</text>
<text x="437.10" y="473.70" font-size="10.30" fill="#000" font-weight="bold" stroke="#000" stroke-width="0.09" textLength="24.10" lengthAdjust="spacingAndGlyphs">Nde<tspan font-family="Liberation Serif" font-size="11.23">I</tspan></text>
<text x="467.80" y="473.70" font-size="8.50" fill="#111" stroke="#111" stroke-width="0.08" textLength="26.90" lengthAdjust="spacingAndGlyphs">(5236)</text>
<text x="490.60" y="444.90" font-size="10.30" fill="#000" font-weight="bold" stroke="#000" stroke-width="0.09" textLength="19.60" lengthAdjust="spacingAndGlyphs">Nsi<tspan font-family="Liberation Serif" font-size="11.23">I</tspan></text>
<text x="516.80" y="444.90" font-size="8.50" fill="#111" stroke="#111" stroke-width="0.08" textLength="26.90" lengthAdjust="spacingAndGlyphs">(4694)</text>
<text x="562.40" y="339.80" font-size="10.30" fill="#000" font-weight="bold" stroke="#000" stroke-width="0.09" textLength="28.80" lengthAdjust="spacingAndGlyphs">EcoR<tspan font-family="Liberation Serif" font-size="11.23">I</tspan></text>
<text x="597.80" y="339.80" font-size="8.50" fill="#111" stroke="#111" stroke-width="0.08" textLength="26.80" lengthAdjust="spacingAndGlyphs">(3535)</text>
<text x="567.40" y="323.60" font-size="9.90" fill="#9b2cf2" stroke="#9b2cf2" stroke-width="0.18" textLength="30.70" lengthAdjust="spacingAndGlyphs">EF1a-F</text>
<text x="603.80" y="323.60" font-size="8.50" fill="#9b2cf2" stroke="#9b2cf2" stroke-width="0.08" textLength="58.80" lengthAdjust="spacingAndGlyphs">(3467 .. 3487)</text>
<text x="570.00" y="307.70" font-size="10.30" fill="#000" font-weight="bold" stroke="#000" stroke-width="0.09" textLength="71.10" lengthAdjust="spacingAndGlyphs">PaeR7<tspan font-family="Liberation Serif" font-size="11.23">I</tspan> - Xho<tspan font-family="Liberation Serif" font-size="11.23">I</tspan></text>
<text x="647.40" y="307.70" font-size="8.50" fill="#111" stroke="#111" stroke-width="0.08" textLength="26.40" lengthAdjust="spacingAndGlyphs">(3306)</text>
<text x="572.10" y="236.10" font-size="10.30" fill="#000" font-weight="bold" stroke="#000" stroke-width="0.09" textLength="27.10" lengthAdjust="spacingAndGlyphs">BstX<tspan font-family="Liberation Serif" font-size="11.23">I</tspan></text>
<text x="605.60" y="236.10" font-size="8.50" fill="#111" stroke="#111" stroke-width="0.08" textLength="27.00" lengthAdjust="spacingAndGlyphs">(2648)</text>
<text x="546.50" y="158.90" font-size="10.30" fill="#000" font-weight="bold" stroke="#000" stroke-width="0.09" textLength="60.50" lengthAdjust="spacingAndGlyphs">Kfl<tspan font-family="Liberation Serif" font-size="11.23">I</tspan> - PpuM<tspan font-family="Liberation Serif" font-size="11.23">I</tspan></text>
<text x="613.70" y="158.90" font-size="8.50" fill="#111" stroke="#111" stroke-width="0.08" textLength="26.80" lengthAdjust="spacingAndGlyphs">(1934)</text>
<text x="351.60" y="46.30" font-size="9.90" fill="#9b2cf2" stroke="#9b2cf2" stroke-width="0.18" textLength="35.00" lengthAdjust="spacingAndGlyphs">EBV-rev</text>
<text x="393.10" y="46.30" font-size="8.50" fill="#9b2cf2" stroke="#9b2cf2" stroke-width="0.08" textLength="74.50" lengthAdjust="spacingAndGlyphs">(11,502 .. 11,521)</text>
<text x="196.40" y="526.90" font-size="11.70" fill="#000" font-weight="bold" stroke="#000" stroke-width="0.09" textLength="338.00" lengthAdjust="spacingAndGlyphs">pLVX-EF1alpha-SARS-CoV-2-nsp12-2xStrep-<tspan font-family="Liberation Serif" font-size="12.75">I</tspan>RES-Puro</text>
<text x="345.90" y="535.60" font-size="8.00" fill="#222" stroke="#222" stroke-width="0.18" textLength="40.00" lengthAdjust="spacingAndGlyphs">11,712 bp</text>
<text x="527.80" y="21.80" font-size="14.00" fill="#cfcaca" stroke="#cfcaca" stroke-width="0.18" textLength="143.10" lengthAdjust="spacingAndGlyphs">Created with SnapGene</text>
<text x="670.6" y="17.2" font-size="9" fill="#cfcaca">®</text>
<g stroke="#d4d0d0" fill="none" stroke-width="1"><path d="M508.2 22.5 L511.5 11 L514 10.5 L515.5 14 L511 22.5 Z"/><path d="M515 14.5 L518.5 17.5 L516.5 20.5 L514 18"/></g>
</svg></body></html>
